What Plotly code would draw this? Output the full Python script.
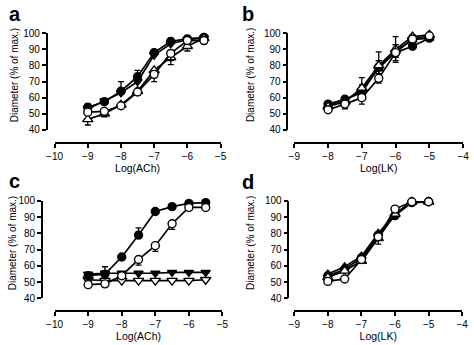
import plotly.graph_objects as go

W, H = 474, 345

# ---------------- data ----------------
log_ach = [-9, -8.5, -8, -7.5, -7, -6.5, -6, -5.5]
log_lk = [-8, -7.5, -7, -6.5, -6, -5.5, -5]

# panel a (ACh)
a_fill_circle = [54, 57.5, 64, 73, 88, 95, 96.5, 97.5]
a_fill_circle_up = [2, 1.5, 6, 4, 1, 1, 1, 1]
a_fill_tri = [53, 58, 63, 70, 86.5, 93.5, 96, 97]
a_fill_tri_up = [3, 1, 2, 2, 1, 1, 1, 1]
a_open_tri = [46.5, 50, 55.5, 64, 77, 85, 92, 97]
a_open_tri_dn = [3.5, 2, 1, 2, 2, 2, 3, 1]
a_open_circle = [51, 51.5, 55, 63.5, 74.5, 87.5, 95.5, 95.5]
a_open_circle_dn = [1, 1, 1, 2, 4.5, 7, 1, 1]

# panel b (LK)
b_fill_circle = [56, 59, 63, 79, 88, 92, 97]
b_fill_circle_err = [1.5, 1.5, 2, 4, 3, 1, 1]
b_fill_tri = [55, 58, 65, 78, 89, 96, 97]
b_fill_tri_err = [1.5, 2, 3, 5, 4, 1, 1]
b_open_tri = [54.5, 57.5, 66, 80, 90, 98, 99]
b_open_tri_err = [2, 3, 6.5, 8.5, 8, 1, 1]
b_open_circle = [52.5, 56, 60, 72, 88, 96.5, 98.5]
b_open_circle_err = [1, 3, 4, 3, 5, 1, 1]

# panel c (ACh)
c_fill_circle = [54, 55, 65.5, 79, 93.5, 96.5, 98.5, 99]
c_fill_circle_up = [1, 4.5, 1, 4.5, 1, 1, 1, 1]
c_open_circle = [48.5, 49, 54, 64, 72.5, 86, 96, 96]
c_open_circle_dn = [1, 1, 1, 3.5, 3.5, 3.5, 1, 1]
c_fill_tri = [55, 55.5, 55.5, 55.5, 55.5, 56, 56, 56]
c_open_tri = [51.5, 51, 51, 51, 51, 51, 51, 51.5]

# panel d (LK)
d_fill_circle = [54, 58, 65, 79, 91, 99, 99.5]
d_fill_tri = [55, 59.5, 66, 80, 92, 99.5, 99.5]
d_open_tri = [53, 57, 63, 77, 92, 99.5, 99.5]
d_open_circle = [50.5, 52, 64, 78, 95, 99.5, 99.5]
d_open_circle_dn = [1, 1, 1, 4.5, 1, 1, 1]

y_ticks = [40, 50, 60, 70, 80, 90, 100]
ach_ticks = [-10, -9, -8, -7, -6, -5]
lk_ticks = [-9, -8, -7, -6, -5, -4]

FONT = "Liberation Sans, Arial, sans-serif"


def fx(p):
    return p / W


def fy(p):
    return 1 - p / H


fig = go.Figure()


def add(xs, ys, ax, ay, symbol, filled, up=None, dn=None, size=8):
    err = None
    if up is not None or dn is not None:
        upv = up if up is not None else [0] * len(ys)
        dnv = dn if dn is not None else [0] * len(ys)
        err = dict(type="data", symmetric=False, array=upv, arrayminus=dnv,
                   color="black", thickness=1.3, width=3)
    fig.add_trace(go.Scatter(
        x=xs, y=ys, xaxis=ax, yaxis=ay, mode="lines+markers",
        line=dict(color="black", width=1.7),
        marker=dict(symbol=symbol, size=size,
                    color="black" if filled else "white",
                    line=dict(color="black", width=1.4)),
        error_y=err, cliponaxis=False, showlegend=False))


# a
add(log_ach, a_fill_circle, "x", "y", "circle", True, up=a_fill_circle_up)
add(log_ach, a_fill_tri, "x", "y", "triangle-down", True, up=a_fill_tri_up)
add(log_ach, a_open_tri, "x", "y", "triangle-up", False, dn=a_open_tri_dn, size=9)
add(log_ach, a_open_circle, "x", "y", "circle", False, dn=a_open_circle_dn)
# b
add(log_lk, b_fill_circle, "x2", "y2", "circle", True, up=b_fill_circle_err, dn=b_fill_circle_err)
add(log_lk, b_fill_tri, "x2", "y2", "triangle-up", True, up=b_fill_tri_err, dn=b_fill_tri_err)
add(log_lk, b_open_tri, "x2", "y2", "triangle-up", False, up=b_open_tri_err, dn=b_open_tri_err, size=9)
add(log_lk, b_open_circle, "x2", "y2", "circle", False, up=b_open_circle_err, dn=b_open_circle_err)
# c
add(log_ach, c_fill_tri, "x3", "y3", "triangle-down", True)
add(log_ach, c_open_tri, "x3", "y3", "triangle-down", False, size=9)
add(log_ach, c_fill_circle, "x3", "y3", "circle", True, up=c_fill_circle_up)
add(log_ach, c_open_circle, "x3", "y3", "circle", False, dn=c_open_circle_dn)
# d
add(log_lk, d_fill_circle, "x4", "y4", "circle", True)
add(log_lk, d_fill_tri, "x4", "y4", "triangle-up", True)
add(log_lk, d_open_tri, "x4", "y4", "triangle-up", False, size=9)
add(log_lk, d_open_circle, "x4", "y4", "circle", False, dn=d_open_circle_dn)

axis_common = dict(showline=True, linecolor="black", linewidth=1.8, ticks="outside",
                   ticklen=4, tickwidth=1.6, tickcolor="black", showgrid=False,
                   zeroline=False, tickfont=dict(family=FONT, size=10, color="black"))

# panel geometry (pixels): (yaxis x, x-dom left, x-dom right, y top, y bottom, x-axis y)
panels = [
    ("x", "y", 40, 48, 219, 28.3, 128.3, 142, [-10, -5], ach_ticks, "Log(ACh)"),
    ("x2", "y2", 288, 295, 469, 28.3, 128.3, 142, [-9, -4], lk_ticks, "Log(LK)"),
    ("x3", "y3", 35, 48, 221, 202, 303, 316, [-10, -5], ach_ticks, "Log(ACh)"),
    ("x4", "y4", 289, 295, 468, 202, 303, 316, [-9, -4], lk_ticks, "Log(LK)"),
]

layout = dict(width=W, height=H, margin=dict(l=0, r=0, t=0, b=0),
              paper_bgcolor="white", plot_bgcolor="white",
              font=dict(family=FONT, color="black"))

for xa, ya, yx, xl, xr, yt, yb, xay, xr_, xt, xtitle in panels:
    xkey = "xaxis" + xa[1:]
    ykey = "yaxis" + ya[1:]
    layout[xkey] = dict(axis_common, domain=[fx(xl), fx(xr)], range=xr_,
                        tickvals=xt, anchor="free", position=fy(xay),
                        title=dict(text=xtitle, font=dict(family=FONT, size=10.5), standoff=2))
    layout[ykey] = dict(axis_common, domain=[fy(yb), fy(yt)], range=[40, 100],
                        tickvals=y_ticks, anchor="free", position=fx(yx))

fig.update_layout(**layout)

annots = []
# y titles
for xp, yp in [(7, 72), (250, 72), (5, 246), (250, 246)]:
    annots.append(dict(text="Diameter (% of max.)", x=fx(xp), y=fy(yp), xref="paper", yref="paper",
                       textangle=-90, showarrow=False, font=dict(family=FONT, size=10, color="black"),
                       xanchor="center", yanchor="middle"))
# panel letters
for t, xp, yp in [("a", 7, 8), ("b", 247, 8), ("c", 7, 181), ("d", 247, 182)]:
    annots.append(dict(text="<b>%s</b>" % t, x=fx(xp), y=fy(yp), xref="paper", yref="paper",
                       showarrow=False, font=dict(family=FONT, size=20, color="black"),
                       xanchor="center", yanchor="middle"))
fig.update_layout(annotations=annots)

fig.write_html("out.html")
